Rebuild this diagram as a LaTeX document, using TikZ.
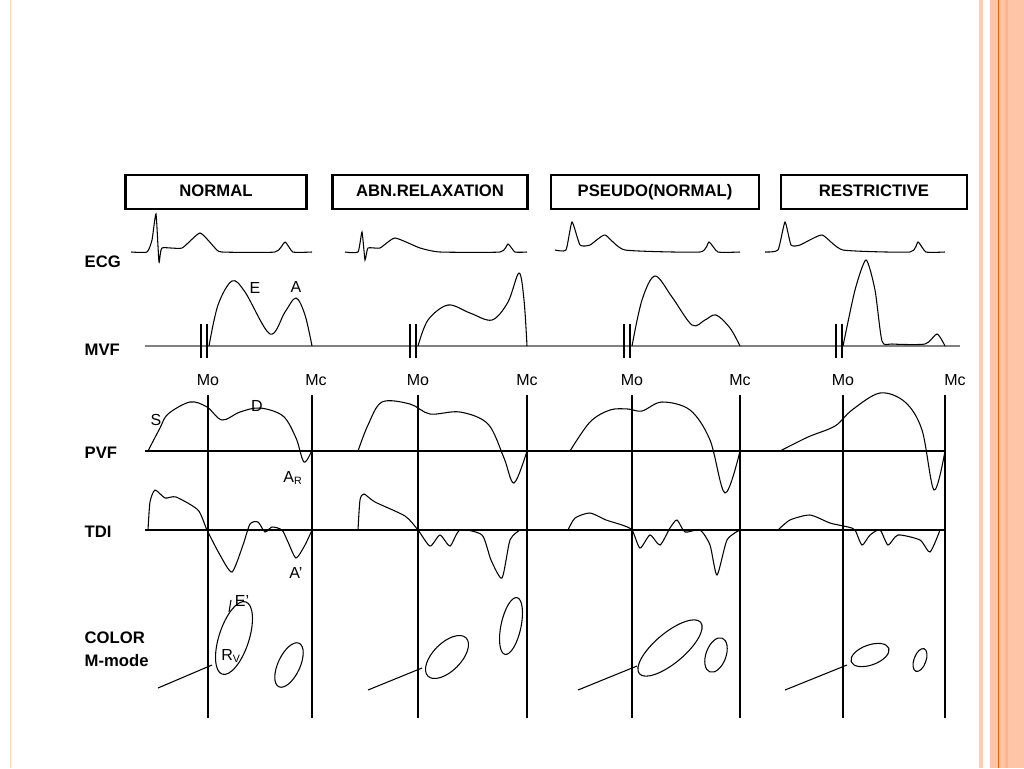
\documentclass[tikz,border=0pt]{standalone}
\usepackage{fontspec}
\setmainfont{Liberation Sans}
\begin{document}
\begin{tikzpicture}[x=0.75pt,y=-0.75pt,
  hdr/.style={draw,line width=1.6pt,minimum height=26pt,inner sep=0pt,text height=9pt,text depth=2pt,font=\bfseries\fontsize{12.5}{14}\selectfont},
  rowlab/.style={anchor=west,font=\bfseries\fontsize{12.5}{14}\selectfont},
  lab/.style={font=\fontsize{12}{14}\selectfont,inner sep=0pt},
  wave/.style={line width=0.8pt,smooth,tension=0.55},
  base/.style={line width=0.8pt}]
\useasboundingbox (0,0) rectangle (1024,768);
\fill[white] (0,0) rectangle (1024,768);
% borders
\draw[orange!30,line width=0.6pt] (10,0) -- (10,768);
\fill[red!30!orange!30] (979,0) rectangle (983,768);
\fill[red!30!orange!35] (990,0) rectangle (1024,768);
\draw[orange!70!red,line width=0.5pt] (998,0) -- (998,768);
\fill[red!30!orange!45] (1005,0) rectangle (1008,768);
% headers
\node[hdr,minimum width=181*0.75pt] (h1) at (216,192) {NORMAL};
\node[hdr,minimum width=195*0.75pt] (h2) at (430,192) {ABN.RELAXATION};
\node[hdr,minimum width=208*0.75pt] (h3) at (655,192) {PSEUDO(NORMAL)};
\node[hdr,minimum width=186*0.75pt] (h4) at (874,192) {RESTRICTIVE};
% row labels
\node[rowlab] (recg) at (80,262) {ECG};
\node[rowlab] (rmvf) at (80,350) {MVF};
\node[rowlab] (rpvf) at (80,453) {PVF};
\node[rowlab] (rtdi) at (80,532) {TDI};
\node[rowlab] (rcol) at (80,638) {COLOR};
\node[rowlab] (rmm) at (80,661) {M-mode};
% baselines
\draw[gray,line width=1pt] (145,346) -- (960,346);
\draw[base] (145,451) -- (945,451);
\draw[base] (145,530) -- (945,530);
% vertical lines
\foreach \x in {208,312,418,527,632,740,843,945} \draw[base] (\x,395) -- (\x,718);
% Mo Mc labels
\foreach \x/\t in {208/Mo,316/Mc,418/Mo,527/Mc,632/Mo,740/Mc,843/Mo,955/Mc} \node[lab] at (\x,380) {\t};
% MVF ticks
\foreach \x in {201,207,410,416,624,630,836,842} \draw[base] (\x,324) -- (\x,358);
% ECG
\draw[wave,tension=0.3] plot coordinates {(131,252) (147,252) (152,240) (156,214) (159,262) (162,248) (182,248) (200,233) (215,248) (222,252) (275,252) (285,242) (293,252) (312,252)};
\draw[wave,tension=0.3] plot coordinates {(345,252) (358,252) (362,232) (365,260) (368,248) (380,248) (395,238) (420,248) (440,252) (500,252) (508,244) (515,252) (527,252)};
\draw[wave,tension=0.3] plot coordinates {(555,250) (566,250) (572,222) (580,245) (590,245) (605,235) (625,250) (700,252) (709,242) (718,252) (740,252)};
\draw[wave,tension=0.3] plot coordinates {(765,252) (778,250) (785,222) (791,245) (800,245) (822,235) (843,250) (910,252) (918,242) (926,252) (945,252)};
% MVF
\draw[wave] plot coordinates {(209,346) (218,305) (232,281) (245,292) (270,334) (285,312) (296,298) (305,315) (312,346)};
\draw[wave] plot coordinates {(418,346) (428,320) (448,305) (470,313) (492,320) (508,302) (519,273) (524,300) (527,346)};
\draw[wave] plot coordinates {(632,346) (642,300) (655,276) (672,297) (692,325) (705,320) (716,315) (730,328) (740,346)};
\draw[wave,tension=0.4] plot coordinates {(843,346) (855,290) (866,260) (875,290) (882,341) (892,344) (925,344) (937,334) (945,346)};
\node[lab] (E) at (255,288) {E};
\node[lab] (A) at (296,287) {A};
% PVF
\draw[wave] plot coordinates {(148,451) (160,428) (168,414) (190,402) (207,407) (222,420) (240,412) (260,408) (283,416) (296,438) (304,462) (312,450)};
\draw[wave] plot coordinates {(358,451) (368,425) (382,402) (410,404) (430,414) (460,412) (488,424) (504,458) (514,483) (527,451)};
\draw[wave] plot coordinates {(570,451) (590,422) (610,410) (628,409) (642,411) (662,402) (690,410) (710,440) (725,493) (740,451)};
\draw[wave] plot coordinates {(780,451) (808,437) (835,426) (852,410) (880,393) (905,402) (922,430) (934,490) (945,451)};
\node[lab] (S) at (156,420) {S};
\node[lab] (D) at (257,406) {D};
\node[lab] (AR) at (293,478) {A\textsubscript{R}};
% TDI
\draw[wave,tension=0.4] plot coordinates {(148,530) (150,502) (155,490) (165,498) (176,497) (198,510) (207,530) (220,555) (232,572) (243,545) (250,524) (258,522) (265,532) (272,527) (282,530) (288,542) (296,558) (305,545) (312,530)};
\draw[wave,tension=0.4] plot coordinates {(358,530) (360,500) (364,494) (375,502) (405,516) (418,530) (430,546) (440,535) (450,546) (460,530) (482,535) (491,560) (502,578) (510,540) (520,530)};
\draw[wave,tension=0.4] plot coordinates {(568,530) (575,518) (590,513) (606,520) (622,525) (632,530) (640,548) (650,535) (660,545) (670,528) (677,520) (685,532) (700,530) (710,545) (717,575) (727,540) (740,530)};
\draw[wave,tension=0.4] plot coordinates {(778,530) (790,520) (810,515) (830,523) (848,527) (855,530) (862,545) (870,535) (880,530) (888,545) (898,535) (920,540) (930,552) (940,530)};
\node[lab] (Ap) at (296,573) {A'};
\node[lab] (Ep) at (242,601) {E'};
% Color M-mode
\draw[base] (158,688) -- (212,665);
\draw[base,rotate around={-18:(234,638)}] (234,638) ellipse (15 and 38);
\draw[base,rotate around={-25:(289,665)}] (289,665) ellipse (11 and 24);
\draw[base] (231,600) -- (229,612);
\node[lab] (RV) at (231,656) {R\textsubscript{V}};
\draw[base] (368,690) -- (422,668);
\draw[base,rotate around={-45:(447,657)}] (447,657) ellipse (14 and 27);
\draw[base,rotate around={-12:(511,626)}] (511,626) ellipse (10 and 29);
\draw[base] (578,690) -- (637,666);
\draw[base,rotate around={-50:(670,648)}] (670,648) ellipse (15 and 40);
\draw[base,rotate around={-20:(716,655)}] (716,655) ellipse (10 and 18);
\draw[base] (785,690) -- (847,665);
\draw[base,rotate around={-70:(870,655)}] (870,655) ellipse (10 and 20);
\draw[base,rotate around={-20:(920,660)}] (920,660) ellipse (6 and 12);
\end{tikzpicture}
\end{document}
